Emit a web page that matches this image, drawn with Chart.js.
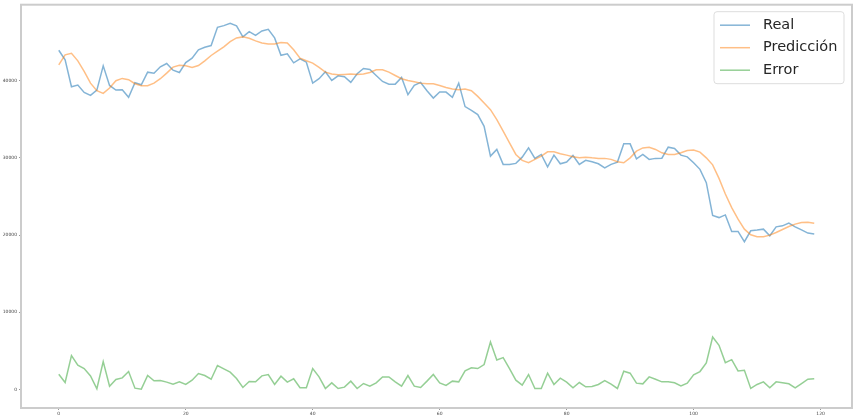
<!DOCTYPE html>
<html>
<head>
<meta charset="utf-8">
<script src="https://cdn.jsdelivr.net/npm/chart.js@4/dist/chart.umd.min.js"></script>
<style>
  html, body { margin: 0; padding: 0; background: #fff; }
  canvas { display: block; }
</style>
</head>
<body>
<canvas id="chart" width="860" height="419"></canvas>
<script>
const seriesNames = ['Real', 'Predicción', 'Error'];

const real = [
  43950, 42710, 39220, 39430, 38490, 38100, 38790, 41930, 39390, 38790,
  38840, 37850, 39740, 39480, 41110, 40980, 41810, 42230, 41370, 41070,
  42360, 42920, 44000, 44340, 44560, 46920, 47140, 47430, 47100, 45680,
  46360, 45880, 46450, 46660, 45550, 43300, 43480, 42320, 42840, 42400,
  39690, 40260, 41160, 40040, 40640, 40520, 39780, 40900, 41590, 41460,
  40680, 39910, 39560, 39560, 40430, 38190, 39390, 39780, 38710, 37750,
  38530, 38530, 37850, 39690, 36650, 36170, 35610, 34100, 30230, 31100,
  29160, 29160, 29290, 30100, 31300, 29940, 30450, 28850, 30360, 29240,
  29460, 30320, 29160, 29680, 29500, 29240, 28720, 29160, 29460, 31820,
  31820, 29880, 30450, 29810, 29940, 29970, 31390, 31230, 30360, 30140,
  29370, 28520, 26790, 22540, 22270, 22620, 20470, 20470, 19140, 20560,
  20650, 20770, 19910, 21070, 21200, 21550, 21070, 20680, 20260, 20130
];

const prediccion = [
  42060, 43350, 43560, 42580, 41200, 39690, 38710, 38360, 39050, 40000,
  40300, 40130, 39610, 39350, 39350, 39690, 40260, 40980, 41760, 42010,
  41930, 41720, 41970, 42580, 43270, 43820, 44390, 45070, 45550, 45680,
  45500, 45160, 44900, 44770, 44770, 44940, 44900, 44000, 42920, 42580,
  42280, 41720, 41110, 40860, 40770, 40810, 40860, 40810, 40860, 41070,
  41420, 41420, 41110, 40680, 40260, 40040, 39870, 39690, 39610, 39610,
  39390, 39130, 38920, 38840, 38920, 38710, 37970, 37110, 36250, 34960,
  33460, 31950, 30450, 29680, 29370, 29810, 30230, 30790, 30790, 30530,
  30360, 30140, 30010, 30100, 30010, 29940, 29940, 29810, 29500, 29370,
  30010, 30880, 31300, 31390, 31100, 30660, 30450, 30450, 30660, 30970,
  31010, 30750, 30010, 29100, 27350, 25330, 23560, 22060, 20770, 20040,
  19780, 19780, 20000, 20340, 20720, 21110, 21420, 21630, 21680, 21550
];

const error = [
  1980, 900, 4390, 3140, 2710, 1760, 90, 3610, 430, 1290,
  1500, 2320, 170, 40, 1810, 1120, 1160, 950, 690, 990,
  650, 1200, 2060, 1810, 1330, 3100, 2670, 2240, 1420, 260,
  1030, 990, 1760, 1940, 650, 1720, 950, 1380, 220, 220,
  2710, 1630, 130, 860, 130, 300, 1080, 130, 770, 430,
  860, 1630, 1630, 990, 430, 1810, 430, 260, 1080, 1940,
  860, 520, 1080, 990, 2410, 2800, 2710, 3230, 6150, 3830,
  4130, 2710, 1200, 560, 1940, 130, 130, 2110, 650, 1460,
  950, 220, 900, 340, 390, 650, 1160, 690, 130, 2370,
  2110, 820, 730, 1630, 1330, 990, 990, 860, 470, 820,
  1890, 2320, 3440, 6790, 5720, 3480, 3870, 2410, 2490, 130,
  650, 990, 220, 990, 860, 730, 220, 770, 1330, 1380
];

const xTicks = [0, 20, 40, 60, 80, 100, 120];
const yTicks = [0, 10000, 20000, 30000, 40000];
const xLimits = [-5.95, 124.95];
const yLimits = [-2400, 49850];

const colors = ['rgba(31,119,180,0.55)', 'rgba(255,127,14,0.5)', 'rgba(44,160,44,0.5)'];

function points(values) {
  return values.map((v, i) => ({ x: i, y: v }));
}

// frame around the plot area, like the axes box
const framePlugin = {
  id: 'frame',
  afterDraw(chart) {
    const { ctx, chartArea: a } = chart;
    ctx.save();
    ctx.strokeStyle = '#cccccc';
    ctx.lineWidth = 2;
    ctx.strokeRect(a.left, a.top, a.right - a.left, a.bottom - a.top);
    ctx.restore();
  }
};

// legend box in the upper right corner
const legendPlugin = {
  id: 'boxLegend',
  afterDraw(chart) {
    const ctx = chart.ctx;
    const a = chart.chartArea;
    const w = 130, h = 72;
    const x = a.right - w - 8, y = a.top + 7;
    ctx.save();
    ctx.beginPath();
    ctx.roundRect(x, y, w, h, 3);
    ctx.fillStyle = 'rgba(255,255,255,0.8)';
    ctx.fill();
    ctx.strokeStyle = '#dddddd';
    ctx.lineWidth = 1;
    ctx.stroke();
    ctx.font = '14.5px "DejaVu Sans"';
    ctx.textBaseline = 'middle';
    chart.data.datasets.forEach((ds, i) => {
      const ly = y + 13.5 + i * 22.5;
      ctx.strokeStyle = ds.borderColor;
      ctx.lineWidth = 1.5;
      ctx.beginPath();
      ctx.moveTo(x + 6, ly);
      ctx.lineTo(x + 36, ly);
      ctx.stroke();
      ctx.fillStyle = '#262626';
      ctx.fillText(ds.label, x + 49, ly);
    });
    ctx.restore();
  }
};

const tickFont = { family: 'DejaVu Sans', size: 4.5 };

new Chart(document.getElementById('chart'), {
  type: 'line',
  data: {
    datasets: [
      { label: seriesNames[0], data: points(real), borderColor: colors[0], order: 2 },
      { label: seriesNames[1], data: points(prediccion), borderColor: colors[1], order: 1 },
      { label: seriesNames[2], data: points(error), borderColor: colors[2], order: 0 }
    ]
  },
  options: {
    responsive: false,
    animation: false,
    devicePixelRatio: 1,
    layout: { padding: { top: 3, right: 8, left: 0, bottom: 0 } },
    elements: {
      line: { borderWidth: 1.5, tension: 0, fill: false },
      point: { radius: 0 }
    },
    plugins: {
      legend: { display: false },
      tooltip: { enabled: false }
    },
    scales: {
      x: {
        type: 'linear',
        min: xLimits[0],
        max: xLimits[1],
        afterBuildTicks: s => { s.ticks = xTicks.map(v => ({ value: v })); },
        afterFit: s => { s.height = 11; },
        grid: { drawOnChartArea: false, tickLength: 2, color: '#999' },
        border: { display: false },
        ticks: { font: tickFont, color: '#444', padding: 1, maxRotation: 0, autoSkip: false,
                 callback: v => String(v) }
      },
      y: {
        min: yLimits[0],
        max: yLimits[1],
        afterBuildTicks: s => { s.ticks = yTicks.map(v => ({ value: v })); },
        afterFit: s => { s.width = 21; },
        grid: { drawOnChartArea: false, tickLength: 2, color: '#999' },
        border: { display: false },
        ticks: { font: tickFont, color: '#444', padding: 2, autoSkip: false,
                 callback: v => String(v) }
      }
    }
  },
  plugins: [framePlugin, legendPlugin]
});
</script>
</body>
</html>
